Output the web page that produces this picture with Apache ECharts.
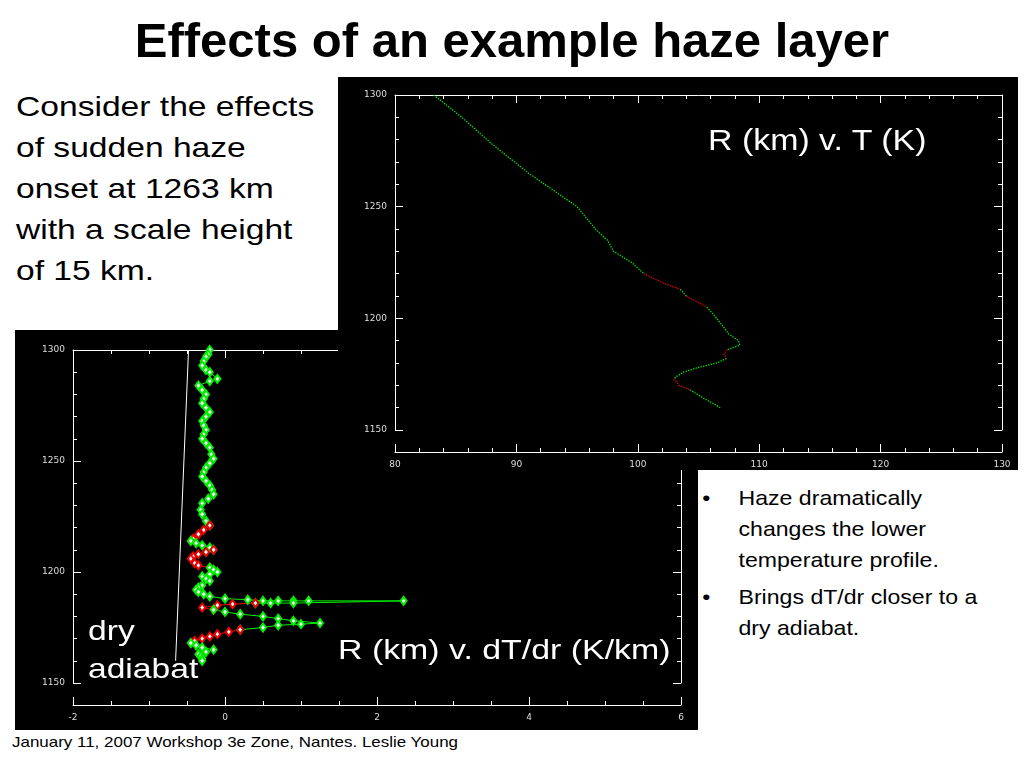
<!DOCTYPE html>
<html><head><meta charset="utf-8">
<script src="https://cdn.jsdelivr.net/npm/echarts@6/dist/echarts.min.js"></script>
<style>
body{margin:0;width:1024px;height:768px;background:#fff;position:relative;overflow:hidden;font-family:"Liberation Sans",Arial,sans-serif}
.abs{position:absolute;transform-origin:0 0}
#c2{left:15px;top:330px;width:683px;height:400px;background:#000}
#c1{left:338px;top:77px;width:680px;height:393px;background:#000}
.w{color:#fff;font-size:28px;line-height:38px;white-space:nowrap}
</style></head><body>
<div class="abs" style="left:0;top:12px;width:1024px;text-align:center;font-size:49px;font-weight:bold;white-space:nowrap">Effects of an example haze layer</div>
<div class="abs" style="left:16px;top:86px;font-size:28px;line-height:41px;white-space:nowrap;transform:scaleX(1.2)">Consider the effects<br>of sudden haze<br>onset at 1263 km<br>with a scale height<br>of 15 km.</div>
<div id="c2" class="abs"></div>
<div id="c1" class="abs"></div>
<div class="abs w" style="left:708px;top:121px;font-size:30px;transform:scaleX(1.13)">R (km) v. T (K)</div>
<div class="abs w" style="left:338px;top:631px;transform:scaleX(1.21)">R (km) v. dT/dr (K/km)</div>
<div class="abs w" style="left:88px;top:612px;transform:scaleX(1.2)">dry<br>adiabat</div>
<div class="abs" style="left:700px;top:482px;font-size:21px;line-height:31px;width:265px;transform:scaleX(1.1)">
<div style="position:relative;padding-left:35px;margin-bottom:6px"><span style="position:absolute;left:2px">•</span>Haze dramatically changes the lower temperature profile.</div>
<div style="position:relative;padding-left:35px"><span style="position:absolute;left:2px">•</span>Brings dT/dr closer to a dry adiabat.</div>
</div>
<div class="abs" style="left:12px;top:733px;font-size:15px;white-space:nowrap;transform:scaleX(1.13)">January 11, 2007 Workshop 3e Zone, Nantes. Leslie Young</div>
<script>
// Temperature profile [T (K), R (km)]
const tempGreen1 = [[83.2,1300],[85.5,1290],[88,1278],[91,1265],[95,1250],[96.5,1240],[97.5,1235],[98,1230],[99.5,1225],[100.5,1220]];
const tempRed1 = [[100.5,1220],[102,1216],[103.5,1213]];
const tempGreen2 = [[103.5,1213],[104,1210]];
const tempRed2 = [[104,1210],[105.7,1205]];
const tempGreen3 = [[105.7,1205],[106.5,1200],[107.5,1193],[108.3,1190],[108.4,1188],[107.4,1186]];
const tempRed3 = [[107.4,1186],[107.1,1184],[107.3,1182]];
const tempGreen4 = [[107.3,1182],[106.5,1180],[105,1178],[103.8,1176],[103.2,1174],[103,1173]];
const tempRed4 = [[103,1173],[103.4,1170],[104.3,1168]];
const tempGreen5 = [[104.3,1168],[105.5,1164],[106.8,1160]];
// Lapse rate [dT/dr (K/km), R (km)]
const lapseGreen1 = [[-0.2,1300],[-0.22,1298],[-0.25,1297],[-0.28,1295],[-0.3,1293],[-0.25,1291],[-0.2,1290],[-0.1,1287],[-0.2,1286],[-0.35,1284],[-0.3,1282],[-0.25,1280],[-0.28,1278],[-0.3,1276],[-0.25,1274],[-0.2,1272],[-0.25,1270],[-0.3,1268],[-0.28,1266],[-0.25,1264],[-0.28,1262],[-0.3,1260],[-0.25,1258],[-0.2,1256],[-0.18,1253],[-0.15,1251],[-0.2,1249],[-0.25,1247],[-0.28,1245],[-0.3,1243],[-0.25,1241],[-0.2,1239],[-0.17,1237],[-0.15,1235],[-0.22,1233],[-0.3,1231],[-0.32,1228],[-0.3,1226],[-0.25,1223],[-0.2,1221]];
const lapseRed1 = [[-0.2,1221],[-0.28,1219],[-0.35,1217],[-0.42,1215],[-0.45,1214]];
const lapseGreen2 = [[-0.45,1214],[-0.38,1213],[-0.3,1212],[-0.2,1211],[-0.15,1210]];
const lapseRed2 = [[-0.15,1210],[-0.25,1209],[-0.35,1208],[-0.42,1207],[-0.45,1206],[-0.4,1204],[-0.35,1203],[-0.2,1202]];
const lapseGreen3 = [[-0.2,1202],[-0.15,1201],[-0.1,1200],[-0.2,1199],[-0.3,1198],[-0.25,1197],[-0.2,1196],[-0.3,1194],[-0.35,1193],[-0.38,1192],[-0.35,1191],[-0.28,1190],[-0.2,1189],[0.0,1188],[0.3,1187.5],[0.5,1187],[0.7,1187],[0.9,1187],[1.1,1187],[2.35,1187],[0.9,1186],[0.6,1186],[0.4,1186]];
const lapseRed3 = [[0.4,1186],[0.1,1185.5],[-0.1,1185],[-0.3,1184],[-0.15,1183]];
const lapseGreen4 = [[-0.15,1183],[0.0,1182],[0.2,1181],[0.5,1180],[0.7,1179],[0.9,1178],[1.25,1177],[1.0,1176.5],[0.7,1176],[0.5,1175],[0.2,1174]];
const lapseRed4 = [[0.2,1174],[0.05,1173],[-0.1,1172],[-0.2,1171],[-0.3,1170],[-0.4,1169],[-0.45,1168]];
const lapseGreen5 = [[-0.45,1168],[-0.38,1167],[-0.3,1166],[-0.15,1165],[-0.25,1164],[-0.35,1163],[-0.32,1162],[-0.3,1161],[-0.3,1160]];
const dryAdiabat = [[-0.48,1300],[-0.65,1160]];

const G='#00ee00', R='#ee0000';
function ax(extra,split){
  return Object.assign({type:'value',splitLine:{show:false},
    axisLine:{onZero:false,lineStyle:{color:'#fff'}},
    axisTick:{inside:true,length:8,lineStyle:{color:'#fff'}},
    minorTick:{show:true,splitNumber:split,length:4,lineStyle:{color:'#fff'}},
    axisLabel:{show:false}},extra);
}
const lbl={color:'#ddd',fontSize:9,fontFamily:'DejaVu Sans',formatter:v=>String(v)};
function axes(xmin,xmax,xint,xsplit){
  return {
    xAxis:[ax({min:xmin,max:xmax,interval:xint,position:'bottom',offset:22,axisLabel:lbl},xsplit),
           ax({min:xmin,max:xmax,interval:xint,position:'top'},xsplit)],
    yAxis:[ax({min:1150,max:1300,interval:50,position:'left',axisLabel:lbl},5),
           ax({min:1150,max:1300,interval:50,position:'right'},5)]
  };
}
function ser(d,c,sym){return {type:'line',data:d,xAxisIndex:0,yAxisIndex:0,silent:true,animation:false,
  lineStyle:{color:c,width:1,type:sym?'solid':'dotted'},itemStyle:{color:c,borderColor:c,borderWidth:1},
  symbol:sym?'emptyDiamond':'none',symbolSize:[6,8],showSymbol:!!sym};}

const c1=echarts.init(document.getElementById('c1'));
c1.setOption(Object.assign({backgroundColor:'#000',grid:{left:57,right:16,top:18,bottom:40}},axes(80,130,10,5),{
  series:[tempGreen1,tempRed1,tempGreen2,tempRed2,tempGreen3,tempRed3,tempGreen4,tempRed4,tempGreen5].map((d,i)=>Object.assign(ser(d,i%2?R:G,false),{lineStyle:{color:i%2?R:G,width:1.3,type:'dotted'}}))}));

const c2=echarts.init(document.getElementById('c2'));
c2.setOption(Object.assign({backgroundColor:'#000',grid:{left:58,right:17,top:20,bottom:47}},axes(-2,6,2,4),{
  series:[Object.assign(ser(dryAdiabat,'#fff',false),{lineStyle:{color:'#fff',width:1}})].concat(
   [lapseGreen1,lapseRed1,lapseGreen2,lapseRed2,lapseGreen3,lapseRed3,lapseGreen4,lapseRed4,lapseGreen5].map((d,i)=>ser(d,i%2?R:G,true)))}));
</script></body></html>
